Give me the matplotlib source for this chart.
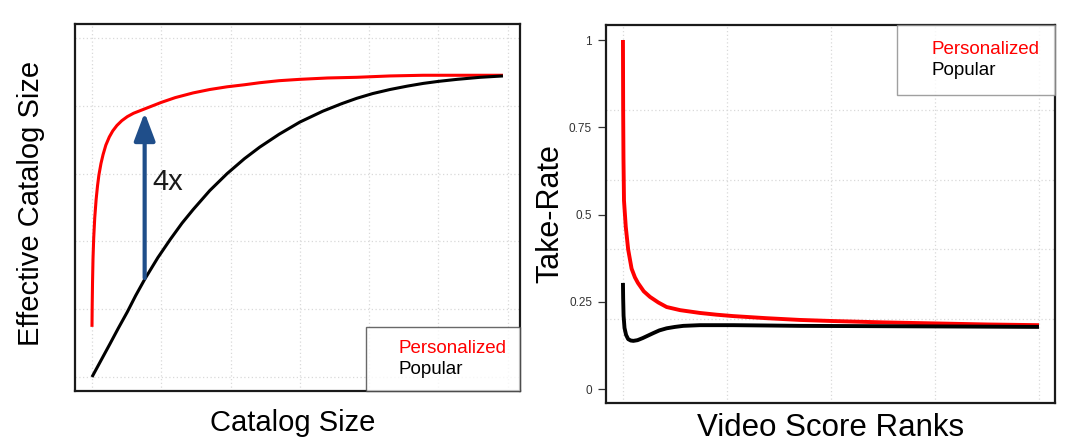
import matplotlib
matplotlib.use("Agg")
import matplotlib.pyplot as plt
from matplotlib.lines import Line2D

# ---------------- data ----------------
# Left panel: Effective Catalog Size vs Catalog Size (unitless grid units)
cat_x_pers = [0.0, 0.003, 0.008, 0.015, 0.025, 0.04, 0.06, 0.08, 0.10, 0.13,
              0.16, 0.20, 0.25, 0.30, 0.36, 0.43, 0.51, 0.60, 0.70, 0.80,
              0.90, 1.00, 1.20, 1.46, 1.70, 1.95, 2.20, 2.42, 2.70, 3.00,
              3.40, 3.82, 4.30, 4.78, 5.30, 5.93]
cat_y_pers = [0.74, 1.05, 1.40, 1.75, 2.05, 2.35, 2.62, 2.82, 2.98, 3.15,
              3.28, 3.42, 3.54, 3.63, 3.71, 3.78, 3.84, 3.89, 3.93, 3.97,
              4.01, 4.05, 4.12, 4.19, 4.24, 4.28, 4.31, 4.34, 4.37, 4.39,
              4.41, 4.42, 4.44, 4.45, 4.45, 4.45]
cat_x_pop = [0.0, 0.13, 0.26, 0.38, 0.51, 0.63, 0.76, 0.95, 1.13, 1.30,
             1.46, 1.70, 1.95, 2.20, 2.42, 2.70, 3.00, 3.33, 3.60, 3.82,
             4.05, 4.30, 4.55, 4.78, 5.00, 5.27, 5.60, 5.93]
cat_y_pop = [0.0, 0.245, 0.49, 0.72, 0.96, 1.20, 1.44, 1.76, 2.03, 2.27,
             2.47, 2.75, 3.00, 3.22, 3.39, 3.58, 3.76, 3.92, 4.03, 4.11,
             4.18, 4.24, 4.29, 4.33, 4.36, 4.39, 4.42, 4.44]
arrow_x = 0.76
arrow_from = 1.46
arrow_to = 3.90
arrow_label = "4x"

# Right panel: Take-Rate vs Video Score Ranks
rank_x_pers = [0.0, 0.002, 0.005, 0.01, 0.027, 0.05, 0.083, 0.115, 0.144,
               0.20, 0.26, 0.34, 0.42, 0.55, 0.74, 0.90, 1.06, 1.38, 1.70,
               2.0, 2.5, 3.0, 3.5, 4.0]
take_pers = [1.0, 0.80, 0.66, 0.54, 0.465, 0.40, 0.345, 0.32, 0.304,
             0.28, 0.264, 0.248, 0.235, 0.226, 0.218, 0.213, 0.209, 0.203,
             0.198, 0.195, 0.191, 0.188, 0.185, 0.183]
rank_x_pop = [0.0, 0.002, 0.006, 0.015, 0.03, 0.05, 0.075, 0.10, 0.14, 0.19,
              0.24, 0.29, 0.35, 0.42, 0.50, 0.58, 0.66, 0.74, 0.90, 1.06,
              1.40, 1.70, 2.5, 3.3, 4.0]
take_pop = [0.304, 0.26, 0.21, 0.175, 0.155, 0.143, 0.139, 0.138, 0.140,
            0.146, 0.153, 0.160, 0.168, 0.174, 0.178, 0.181, 0.182, 0.183,
            0.183, 0.183, 0.182, 0.181, 0.180, 0.179, 0.178]

take_ticks = [0, 0.25, 0.5, 0.75, 1]
take_tick_labels = ["0", "0.25", "0.5", "0.75", "1"]
take_grid = [0, 0.2, 0.4, 0.6, 0.8, 1.0]
rank_grid = [0, 1, 2, 3, 4]
cat_grid_x = [0, 1, 2, 3, 4, 5, 6]
cat_grid_y = [0, 1, 2, 3, 4, 5]

series_names = ["Personalized", "Popular"]
series_colors = ["#ff0000", "#000000"]

# ---------------- styling ----------------
plt.rcParams["font.family"] = ["Liberation Sans", "DejaVu Sans"]
GRID = dict(color="#d9d9d9", linestyle=(0, (1, 2)), linewidth=0.9)
ARROW_COLOR = "#1f4e8a"

fig = plt.figure(figsize=(10.85, 4.48), dpi=100)
ax1 = fig.add_axes([75 / 1085, 57 / 448, 445 / 1085, 367 / 448])
ax2 = fig.add_axes([606 / 1085, 45 / 448, 449 / 1085, 378 / 448])

for ax in (ax1, ax2):
    for s in ax.spines.values():
        s.set_linewidth(1.6)
        s.set_color("#1a1a1a")
    ax.set_axisbelow(True)

# ---------- left panel ----------
ax1.plot(cat_x_pers, cat_y_pers, color=series_colors[0], lw=2.2,
         solid_capstyle="butt", solid_joinstyle="round", zorder=3)
ax1.plot(cat_x_pop, cat_y_pop, color=series_colors[1], lw=2.2,
         solid_capstyle="butt", solid_joinstyle="round", zorder=3)
ax1.set_xlim(-0.245, 6.176)
ax1.set_ylim(-0.206, 5.206)
ax1.set_xticks(cat_grid_x)
ax1.set_yticks(cat_grid_y)
ax1.tick_params(length=0, labelbottom=False, labelleft=False)
ax1.grid(True, **GRID)
ax1.annotate("", xy=(arrow_x, arrow_to), xytext=(arrow_x, arrow_from),
             arrowprops=dict(arrowstyle="-|>,head_length=0.85,head_width=0.32",
                             mutation_scale=20, lw=3.0, color=ARROW_COLOR,
                             shrinkA=0, shrinkB=0), zorder=4)
ax1.text(arrow_x + 0.11, 2.88, arrow_label, fontsize=21, ha="left",
         va="center", color="#1a1a1a")
ax1.set_xlabel("Catalog Size", fontsize=21)
ax1.xaxis.set_label_coords(0.49, -0.05)
ax1.set_ylabel("Effective Catalog Size", fontsize=21)
ax1.yaxis.set_label_coords(-0.068, 0.51)

handles = [Line2D([], [], lw=0) for _ in series_names]
leg1 = ax1.legend(handles, series_names, loc="lower right", frameon=True,
                  fancybox=False, borderaxespad=0, fontsize=13.5,
                  handlelength=0.65, handletextpad=0.4, borderpad=0.7,
                  labelspacing=0.2, labelcolor=series_colors)
leg1.get_frame().set_edgecolor("#444444")
leg1.get_frame().set_linewidth(1.0)

# ---------- right panel ----------
ax2.plot(rank_x_pers, take_pers, color=series_colors[0], lw=2.8,
         solid_capstyle="butt", solid_joinstyle="round", zorder=3)
ax2.plot(rank_x_pop, take_pop, color=series_colors[1], lw=2.8,
         solid_capstyle="butt", solid_joinstyle="round", zorder=3)
ax2.set_xlim(-0.163, 4.154)
ax2.set_ylim(-0.040, 1.043)
ax2.set_xticks(rank_grid)
ax2.set_yticks(take_ticks)
ax2.set_yticklabels(take_tick_labels)
ax2.set_yticks(take_grid, minor=True)
ax2.tick_params(axis="x", length=0, labelbottom=False)
ax2.tick_params(axis="y", which="major", length=6, width=0.9,
                color="#333333", labelsize=8.5, labelcolor="#333333", pad=4)
ax2.tick_params(axis="y", which="minor", length=0)
ax2.grid(True, axis="x", **GRID)
ax2.grid(True, axis="y", which="minor", **GRID)
ax2.set_xlabel("Video Score Ranks", fontsize=22.5)
ax2.xaxis.set_label_coords(0.5, -0.027)
ax2.set_ylabel("Take-Rate", fontsize=22)
ax2.yaxis.set_label_coords(-0.09, 0.5)

leg2 = ax2.legend(handles, series_names, loc="upper right", frameon=True,
                  fancybox=False, borderaxespad=0, fontsize=13.5,
                  handlelength=0.55, handletextpad=0.4, borderpad=0.85,
                  labelspacing=0.2, labelcolor=series_colors)
leg2.get_frame().set_edgecolor("#888888")
leg2.get_frame().set_linewidth(1.0)

fig.savefig("out.png", dpi=100, facecolor="white")
